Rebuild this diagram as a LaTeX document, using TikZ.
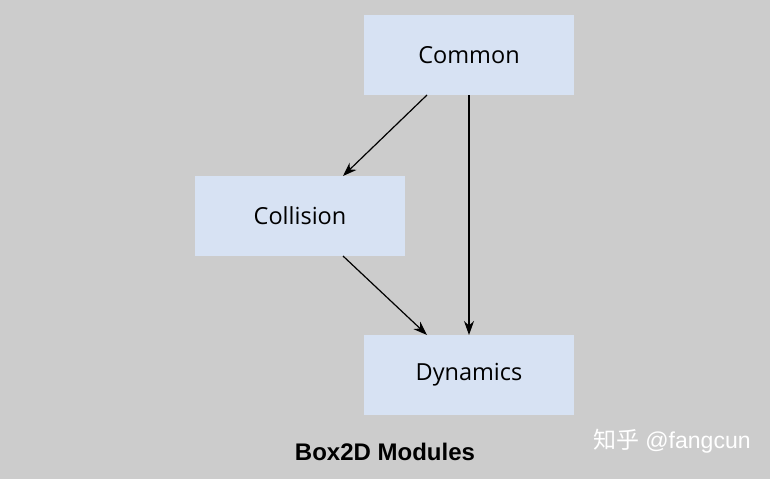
\documentclass[tikz,border=0pt]{standalone}
\usepackage{fontspec}
\setmainfont{Open Sans}
\newfontfamily\arialf{Liberation Sans}
\newfontfamily\cjk{Noto Sans CJK SC}
\usetikzlibrary{arrows.meta}
\definecolor{bg}{HTML}{CCCCCC}
\definecolor{boxc}{HTML}{D7E2F3}
\begin{document}
\begin{tikzpicture}[x=1pt,y=-1pt,
  mod/.style={fill=boxc,draw=none,minimum width=210pt,minimum height=80pt,inner sep=0pt,font=\fontsize{23.5}{27}\selectfont},
  arr/.style={draw=black,line width=1.2pt,-{Stealth[length=14pt,width=10pt]}}]
\fill[bg] (0,0) rectangle (770,479);
\useasboundingbox (0,0) rectangle (770,479);
\node[mod] (common) at (469,55) {Common};
\node[mod] (collision) at (300,216) {Collision};
\node[mod] (dynamics) at (469,375) {Dynamics};
\coordinate (c1) at (427,95);
\coordinate (c2) at (343,176);
\coordinate (c3) at (469,95);
\coordinate (c4) at (469,335);
\coordinate (d1) at (343,256);
\coordinate (d2) at (427,335);
\draw[arr] (c1) -- (c2);
\draw[arr] (c3) -- (c4);
\draw[arr] (d1) -- (d2);
\node[font=\arialf\bfseries\fontsize{24}{28}\selectfont] (title) at (385,452) {Box2D Modules};
\node[text=white,font=\fontsize{23}{27}\selectfont] (wm) at (672,441) {{\cjk 知乎} {\arialf @fangcun}};
\end{tikzpicture}
\end{document}
